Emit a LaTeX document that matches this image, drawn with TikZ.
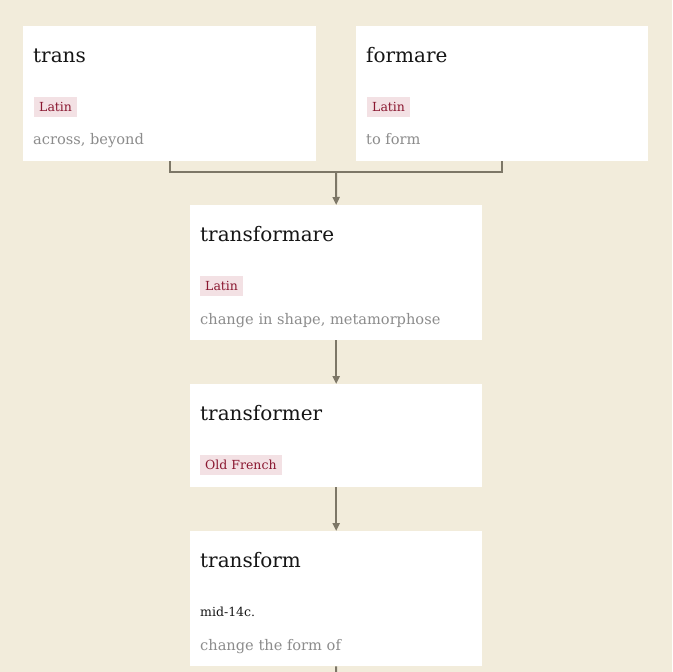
\documentclass[tikz,border=0pt]{standalone}
\usepackage{fontspec}
\setmainfont{DejaVu Serif}
\usetikzlibrary{arrows.meta}
\definecolor{bgc}{HTML}{F2ECDB}
\definecolor{titlec}{HTML}{161616}
\definecolor{tagbg}{HTML}{F3E1E4}
\definecolor{tagfg}{HTML}{8A1730}
\definecolor{glossc}{HTML}{8C8C8C}
\definecolor{linec}{HTML}{7D7767}
\tikzset{
  card/.style={fill=white, draw=none, anchor=north west, inner sep=0pt, minimum width=#1},
  ttl/.style={anchor=base west, inner sep=0pt, text=titlec, font=\fontsize{20}{24}\selectfont},
  tag/.style={anchor=base west, fill=tagbg, text=tagfg, inner xsep=5pt, inner ysep=0pt, text height=14pt, text depth=6pt, font=\fontsize{12.5}{15}\selectfont},
  gloss/.style={anchor=base west, inner sep=0pt, text=glossc, font=\fontsize{14.6}{18}\selectfont},
  date/.style={anchor=base west, inner sep=0pt, text=titlec, font=\fontsize{12.5}{15}\selectfont},
  conn/.style={draw=linec, line width=2pt},
  arr/.style={conn, -{Triangle[length=8pt,width=7pt]}},
}
\begin{document}
\begin{tikzpicture}[x=1pt,y=-1pt]
\useasboundingbox[fill=bgc] (0,0) rectangle (672,672);
% cards
\node[card=293pt, minimum height=135pt] (c1) at (23,26) {};
\node[card=292pt, minimum height=135pt] (c2) at (356,26) {};
\node[card=292pt, minimum height=135pt] (c3) at (190,205) {};
\node[card=292pt, minimum height=103pt] (c4) at (190,384) {};
\node[card=292pt, minimum height=135pt] (c5) at (190,531) {};
% texts card 1
\node[ttl] (t1) at (33,62) {trans};
\node[tag] (g1) at (34,111) {Latin};
\node[gloss] (d1) at (33,144) {across, beyond};
% card 2
\node[ttl] (t2) at (366,62) {formare};
\node[tag] (g2) at (367,111) {Latin};
\node[gloss] (d2) at (366,144) {to form};
% card 3
\node[ttl] (t3) at (200,241) {transformare};
\node[tag] (g3) at (200,290) {Latin};
\node[gloss] (d3) at (200,324) {change in shape, metamorphose};
% card 4
\node[ttl] (t4) at (200,420) {transformer};
\node[tag] (g4) at (200,469) {Old French};
% card 5
\node[ttl] (t5) at (200,567) {transform};
\node[date] (m5) at (200,616) {mid-14c.};
\node[gloss] (d5) at (200,650) {change the form of};
% connectors
\coordinate (j1) at (170,172);
\coordinate (j2) at (502,172);
\coordinate (jm) at (336,172);
\coordinate (stub) at (336,672);
\draw[conn] (c1.south -| j1) -- (j1) -- (j2) -- (c2.south -| j2);
\draw[arr] (jm) -- (c3.north);
\draw[arr] (c3.south) -- (c4.north);
\draw[arr] (c4.south) -- (c5.north);
\draw[conn] (c5.south) -- (stub);
\end{tikzpicture}
\end{document}
